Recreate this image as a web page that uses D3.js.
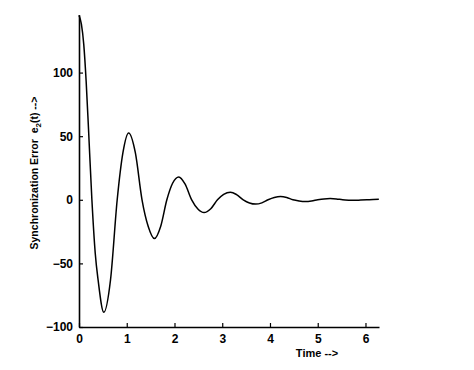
<!DOCTYPE html>
<html>
<head>
<meta charset="utf-8">
<script src="https://cdn.jsdelivr.net/npm/d3@7"></script>
<style>
  body { margin: 0; background: #fff; }
  text { font-family: "Liberation Sans", Arial, sans-serif; }
</style>
</head>
<body>
<div id="container"></div>
<script>
/* DATA */
var time = [0, 0.05, 0.10, 0.15, 0.20, 0.27, 0.34, 0.40, 0.52, 0.66, 0.80, 0.92, 1.04, 1.18, 1.32, 1.45,
            1.58, 1.71, 1.84, 1.96, 2.09, 2.22, 2.36, 2.49, 2.62, 2.76, 2.90, 3.03, 3.17, 3.30, 3.44,
            3.57, 3.70, 3.83, 3.96, 4.09, 4.22, 4.35, 4.48, 4.61, 4.74, 4.87, 5.00, 5.13, 5.26, 5.39,
            5.52, 5.65, 5.77, 5.90, 6.03, 6.16, 6.28]
var error = [145, 138, 122, 93, 55, 0, -42, -63, -88.5, -63, 0, 37, 52.5, 37, 0, -21,
             -30.5, -21, 0, 13, 18, 12.5, 0, -7.2, -10, -7, 0, 4.3, 6, 4.1, 0,
             -2.5, -3.4, -2.4, 0, 1.8, 2.6, 1.8, 0, -0.9, -1.3, -0.9, 0, 0.7, 1.0, 0.7,
             0, -0.3, -0.4, -0.2, 0, 0.2, 0.4]
var xTicks = [0, 1, 2, 3, 4, 5, 6]
var yTicks = [-100, -50, 0, 50, 100]

/* SET UP */
var width = 474, height = 370
var svg = d3.select('#container').append('svg')
            .attr('width', width)
            .attr('height', height)

var x = d3.scaleLinear().domain([0, 2 * Math.PI]).range([79, 379])
var y = d3.scaleLinear().domain([-100, 145.5]).range([327, 14.7])

var points = time.map(function(t, i) { return [t, error[i]] })

/* AXES */
svg.append('g')
    .attr('transform', 'translate(0,' + y(-100) + ')')
    .call(d3.axisBottom(x).tickValues(xTicks).tickFormat(d3.format('d'))
            .tickSizeInner(-4).tickSizeOuter(0).tickPadding(7))

svg.append('g')
    .attr('transform', 'translate(' + x(0) + ',0)')
    .call(d3.axisLeft(y).tickValues(yTicks).tickFormat(d3.format('d'))
            .tickSizeInner(-4).tickSizeOuter(0).tickPadding(6))

svg.selectAll('.domain').attr('stroke', '#000').attr('stroke-width', 1.6)
svg.selectAll('.tick line').attr('stroke', '#000').attr('stroke-width', 1.2)
svg.selectAll('.tick text')
   .style('font-family', '"Liberation Sans", Arial, sans-serif')
   .style('font-size', '12px')
   .style('font-weight', 'bold')
   .attr('fill', '#000')

/* CURVE */
var line = d3.line()
    .x(function(d) { return x(d[0]) })
    .y(function(d) { return y(d[1]) })
    .curve(d3.curveMonotoneX)

svg.append('path')
   .datum(points)
   .attr('d', line)
   .attr('fill', 'none')
   .attr('stroke', '#000')
   .attr('stroke-width', 1.5)

/* LABELS */
svg.append('text')
   .attr('x', 317)
   .attr('y', 357)
   .attr('text-anchor', 'middle')
   .style('font-size', '11px')
   .style('font-weight', 'bold')
   .text('Time -->')

var yl = svg.append('text')
   .attr('transform', 'translate(38,173) rotate(-90)')
   .attr('text-anchor', 'middle')
   .style('font-size', '10.5px')
   .style('font-weight', 'bold')
yl.append('tspan').text('Synchronization Error\u00a0\u00a0e')
yl.append('tspan').attr('dy', 3).style('font-size', '8px').text('2')
yl.append('tspan').attr('dy', -3).text('(t) -->')
</script>
</body>
</html>
